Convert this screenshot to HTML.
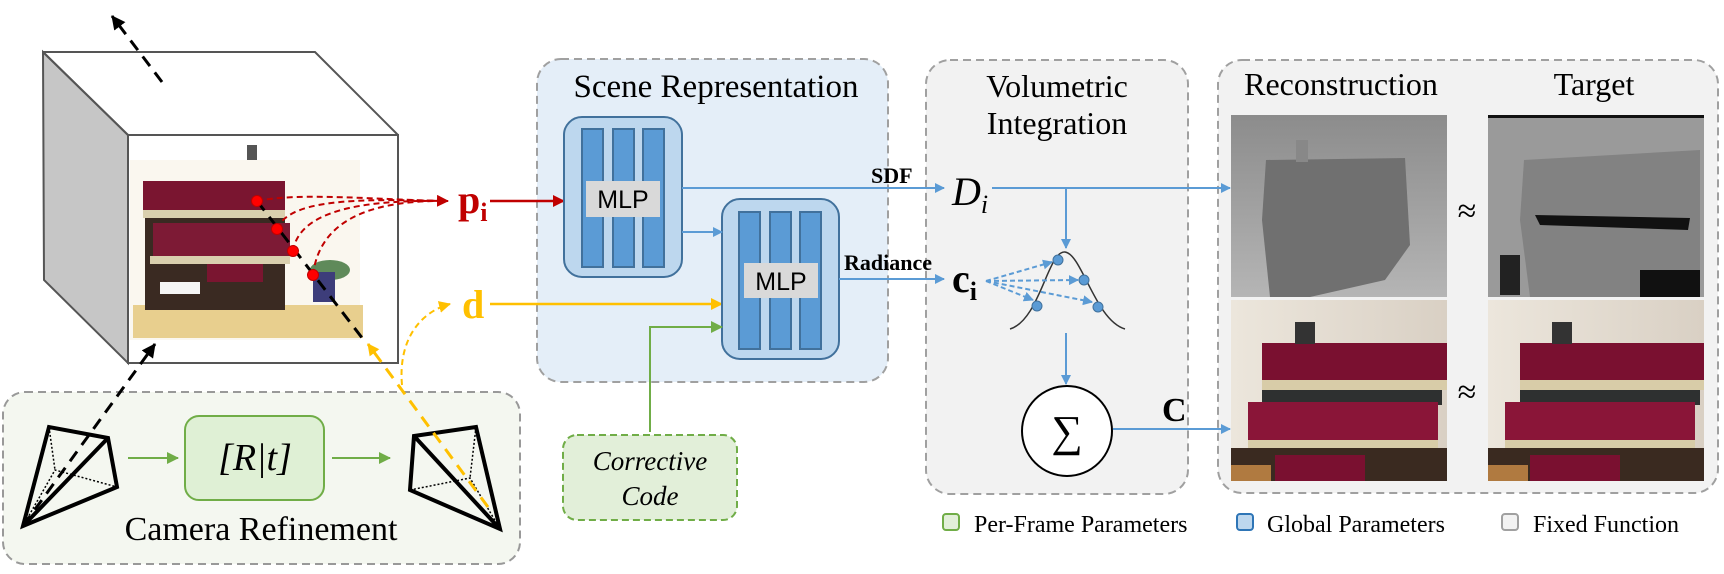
<!DOCTYPE html>
<html><head><meta charset="utf-8"><style>
html,body{margin:0;padding:0;background:#fff;}
svg{display:block;}
text{font-family:"Liberation Serif",serif;}
</style></head><body>
<svg width="1724" height="574" viewBox="0 0 1724 574" xmlns="http://www.w3.org/2000/svg">
<defs>
<marker id="ab" markerWidth="10" markerHeight="10" refX="9" refY="5" orient="auto" markerUnits="userSpaceOnUse"><path d="M0,0 L10,5 L0,10 z" fill="#5b9bd5"/></marker>
<marker id="ar" markerWidth="12" markerHeight="12" refX="11" refY="6" orient="auto" markerUnits="userSpaceOnUse"><path d="M0,0 L12,6 L0,12 z" fill="#c00000"/></marker>
<marker id="ay" markerWidth="12" markerHeight="12" refX="11" refY="6" orient="auto" markerUnits="userSpaceOnUse"><path d="M0,0 L12,6 L0,12 z" fill="#ffc000"/></marker>
<marker id="ag" markerWidth="12" markerHeight="12" refX="11" refY="6" orient="auto" markerUnits="userSpaceOnUse"><path d="M0,0 L12,6 L0,12 z" fill="#70ad47"/></marker>
<marker id="ak" markerWidth="14" markerHeight="14" refX="13" refY="7" orient="auto" markerUnits="userSpaceOnUse"><path d="M0,0 L14,7 L0,14 z" fill="#000"/></marker>
<linearGradient id="dg" x1="0" y1="0" x2="0" y2="1"><stop offset="0" stop-color="#8c8c8c"/><stop offset="1" stop-color="#b5b5b5"/></linearGradient>
<linearGradient id="wg" x1="0" y1="0" x2="1" y2="0"><stop offset="0" stop-color="#ece6dc"/><stop offset="1" stop-color="#d9d0c4"/></linearGradient>
</defs>

<!-- Camera refinement box (drawn first so rays overlay it) -->
<rect x="3" y="392" width="517" height="172" rx="22" fill="#f4f7f0" stroke="#999" stroke-width="2" stroke-dasharray="8,5"/>

<!-- Cube -->
<polygon points="43,52 128,135 128,363 44,280" fill="#c6c6c6" stroke="#555" stroke-width="2"/>
<polyline points="43,52 315,52 398,135" fill="none" stroke="#555" stroke-width="2"/>
<line x1="43" y1="52" x2="128" y2="135" stroke="#555" stroke-width="2"/>
<rect x="130" y="160" width="230" height="180" fill="#f7f2e4" opacity="0.6"/>
<rect x="133" y="305" width="230" height="33" fill="#e8cf8e"/>
<rect x="145" y="195" width="140" height="115" fill="#3a2a22"/>
<rect x="143" y="181" width="142" height="30" fill="#7a1530"/>
<rect x="143" y="210" width="142" height="8" fill="#d9cfae"/>
<rect x="153" y="223" width="137" height="33" fill="#7d1a35"/>
<rect x="150" y="256" width="140" height="8" fill="#d9cfae"/>
<rect x="207" y="264" width="56" height="18" fill="#7a1530"/>
<rect x="160" y="282" width="40" height="12" fill="#f5f5f5"/>
<rect x="247" y="145" width="10" height="15" fill="#555"/>
<ellipse cx="330" cy="270" rx="20" ry="10" fill="#5f8a5a"/>
<rect x="313" y="272" width="22" height="30" fill="#3d3d7a"/>
<rect x="128" y="135" width="270" height="228" fill="none" stroke="#555" stroke-width="2"/>

<!-- Cameras -->
<g fill="none" stroke="#000">
<polygon points="23,526 49,427 108,438 117,487" stroke-width="4"/>
<line x1="23" y1="526" x2="108" y2="438" stroke-width="4"/>
<polyline points="23,526 55,470 117,487" stroke-width="1.5" stroke-dasharray="2,2"/>
<line x1="49" y1="427" x2="55" y2="470" stroke-width="1.5" stroke-dasharray="2,2"/>
<polygon points="414,436 476,427 500,529 410,490" stroke-width="4"/>
<line x1="414" y1="436" x2="500" y2="529" stroke-width="4"/>
<polyline points="410,490 470,478 500,529" stroke-width="1.5" stroke-dasharray="2,2"/>
<line x1="476" y1="427" x2="470" y2="478" stroke-width="1.5" stroke-dasharray="2,2"/>
</g>

<!-- black dashed rays -->
<line x1="162" y1="82" x2="112" y2="16" stroke="#000" stroke-width="3" stroke-dasharray="12,8" marker-end="url(#ak)"/>
<line x1="23" y1="526" x2="155" y2="344" stroke="#000" stroke-width="3" stroke-dasharray="12,8" marker-end="url(#ak)"/>
<line x1="257" y1="201" x2="366" y2="343" stroke="#000" stroke-width="3" stroke-dasharray="12,8"/>
<!-- red curves -->
<g fill="none" stroke="#c00000" stroke-width="2" stroke-dasharray="6,4">
<path d="M257,201 C300,192 380,200 448,201"/>
<path d="M277,229 C290,195 380,200 448,201"/>
<path d="M293,251 C300,205 380,200 448,201"/>
<path d="M313,275 C320,215 380,200 448,201" marker-end="url(#ar)"/>
</g>
<g fill="#ff0000" stroke="#c00000" stroke-width="1"><circle cx="257" cy="201" r="5.5"/><circle cx="277" cy="229" r="5.5"/><circle cx="293" cy="251" r="5.5"/><circle cx="313" cy="275" r="5.5"/></g>
<text x="458" y="213" font-size="40" font-weight="bold" fill="#c00000">p<tspan font-size="26" dy="8">i</tspan></text>
<!-- yellow -->
<path d="M402,385 C398,340 420,312 450,304" fill="none" stroke="#ffc000" stroke-width="2" stroke-dasharray="6,4" marker-end="url(#ay)"/>
<line x1="488" y1="507" x2="368" y2="344" stroke="#ffc000" stroke-width="3" stroke-dasharray="12,8" marker-end="url(#ay)"/>
<text x="462" y="318" font-size="40" font-weight="bold" fill="#ffc000">d</text>

<rect x="185" y="416" width="139" height="84" rx="14" fill="#dff0d5" stroke="#70ad47" stroke-width="2"/>
<text x="255" y="470" font-size="38" text-anchor="middle" font-style="italic">[R|t]</text>
<line x1="128" y1="458" x2="178" y2="458" stroke="#70ad47" stroke-width="2" marker-end="url(#ag)"/>
<line x1="332" y1="458" x2="390" y2="458" stroke="#70ad47" stroke-width="2" marker-end="url(#ag)"/>
<text x="261" y="540" font-size="34" text-anchor="middle">Camera Refinement</text>

<!-- Scene representation -->
<rect x="537" y="59" width="351" height="323" rx="24" fill="#e4eef8" stroke="#a0a0a0" stroke-width="2" stroke-dasharray="8,5"/>
<text x="716" y="97" font-size="33" text-anchor="middle">Scene Representation</text>
<line x1="490" y1="304" x2="722" y2="304" stroke="#ffc000" stroke-width="2.5" marker-end="url(#ay)"/>
<line x1="490" y1="201" x2="564" y2="201" stroke="#c00000" stroke-width="2.5" marker-end="url(#ar)"/>
<g stroke="#41719c" stroke-width="2">
<rect x="564" y="117" width="118" height="160" rx="18" fill="#bdd7ee"/>
<rect x="582" y="129" width="21" height="138" fill="#5b9bd5"/><rect x="613" y="129" width="21" height="138" fill="#5b9bd5"/><rect x="643" y="129" width="21" height="138" fill="#5b9bd5"/>
<rect x="722" y="199" width="117" height="160" rx="18" fill="#bdd7ee"/>
<rect x="739" y="212" width="21" height="137" fill="#5b9bd5"/><rect x="770" y="212" width="21" height="137" fill="#5b9bd5"/><rect x="800" y="212" width="21" height="137" fill="#5b9bd5"/>
</g>
<rect x="586" y="181" width="74" height="36" fill="#d9d9d9"/>
<rect x="744" y="263" width="74" height="35" fill="#d9d9d9"/>
<text x="623" y="208" font-size="25" text-anchor="middle" style="font-family:'Liberation Sans',sans-serif">MLP</text>
<text x="781" y="290" font-size="25" text-anchor="middle" style="font-family:'Liberation Sans',sans-serif">MLP</text>
<line x1="682" y1="232" x2="722" y2="232" stroke="#5b9bd5" stroke-width="2" marker-end="url(#ab)"/>
<polyline points="650,432 650,327 722,327" fill="none" stroke="#70ad47" stroke-width="2" marker-end="url(#ag)"/>
<rect x="563" y="435" width="174" height="85" rx="14" fill="#e2efd9" stroke="#70ad47" stroke-width="2" stroke-dasharray="7,4"/>
<text x="650" y="470" font-size="27" text-anchor="middle" font-style="italic">Corrective</text>
<text x="650" y="505" font-size="27" text-anchor="middle" font-style="italic">Code</text>

<!-- Volumetric -->
<rect x="926" y="60" width="262" height="434" rx="24" fill="#f2f2f2" stroke="#a0a0a0" stroke-width="2" stroke-dasharray="8,5"/>
<text x="1057" y="97" font-size="32" text-anchor="middle">Volumetric</text>
<text x="1057" y="134" font-size="32" text-anchor="middle">Integration</text>
<line x1="682" y1="188" x2="944" y2="188" stroke="#5b9bd5" stroke-width="2" marker-end="url(#ab)"/>
<text x="871" y="183" font-size="22" font-weight="bold">SDF</text>
<text x="952" y="205" font-size="40" font-style="italic">D<tspan font-size="26" dy="8">i</tspan></text>
<line x1="839" y1="279" x2="944" y2="279" stroke="#5b9bd5" stroke-width="2" marker-end="url(#ab)"/>
<text x="844" y="270" font-size="22" font-weight="bold">Radiance</text>
<text x="952" y="292" font-size="40" font-weight="bold">c<tspan font-size="26" dy="8">i</tspan></text>
<line x1="1066" y1="188" x2="1066" y2="248" stroke="#5b9bd5" stroke-width="2" marker-end="url(#ab)"/>
<path d="M1010,329 C1040,320 1048,250 1065,252 C1082,254 1095,320 1125,329" fill="none" stroke="#333" stroke-width="1.5"/>
<g stroke="#5b9bd5" stroke-width="2" stroke-dasharray="5,3" fill="none">
<line x1="986" y1="281" x2="1052" y2="262" marker-end="url(#ab)"/>
<line x1="986" y1="281" x2="1078" y2="280" marker-end="url(#ab)"/>
<line x1="986" y1="281" x2="1033" y2="300" marker-end="url(#ab)"/>
<line x1="986" y1="281" x2="1092" y2="302" marker-end="url(#ab)"/>
</g>
<g fill="#5b9bd5" stroke="#41719c"><circle cx="1058" cy="260" r="5"/><circle cx="1084" cy="280" r="5"/><circle cx="1037" cy="306" r="5"/><circle cx="1098" cy="307" r="5"/></g>
<line x1="1066" y1="333" x2="1066" y2="384" stroke="#5b9bd5" stroke-width="2" marker-end="url(#ab)"/>
<circle cx="1067" cy="431" r="45" fill="#fff" stroke="#000" stroke-width="2"/>
<text x="1067" y="446" font-size="44" text-anchor="middle">∑</text>
<text x="1162" y="421" font-size="34" font-weight="bold">C</text>

<!-- Reconstruction -->
<rect x="1218" y="60" width="500" height="433" rx="24" fill="#f2f2f2" stroke="#a0a0a0" stroke-width="2" stroke-dasharray="8,5"/>
<line x1="992" y1="188" x2="1230" y2="188" stroke="#5b9bd5" stroke-width="2" marker-end="url(#ab)"/>
<line x1="1113" y1="429" x2="1230" y2="429" stroke="#5b9bd5" stroke-width="2" marker-end="url(#ab)"/>
<text x="1341" y="95" font-size="32" text-anchor="middle">Reconstruction</text>
<text x="1594" y="95" font-size="32" text-anchor="middle">Target</text>
<rect x="1231" y="115" width="216" height="182" fill="url(#dg)"/>
<path d="M1266,160 L1405,158 L1410,245 L1385,280 L1310,297 L1270,297 L1262,220 Z" fill="#707070"/>
<rect x="1296" y="140" width="12" height="22" fill="#888"/>
<rect x="1488" y="115" width="216" height="182" fill="#9a9a9a"/>
<path d="M1524,160 L1700,150 L1700,280 L1680,297 L1530,297 L1520,220 Z" fill="#828282"/>
<path d="M1535,215 L1690,218 L1688,230 L1540,225 Z" fill="#111"/>
<rect x="1488" y="115" width="216" height="3" fill="#111"/>
<rect x="1640" y="270" width="60" height="27" fill="#111"/>
<rect x="1500" y="255" width="20" height="40" fill="#222"/>
<g>
<rect x="1231" y="300" width="216" height="181" fill="url(#wg)"/>
<rect x="1262" y="343" width="185" height="40" fill="#7a1030"/>
<rect x="1262" y="380" width="185" height="10" fill="#d8cca8"/>
<rect x="1262" y="390" width="180" height="15" fill="#2e3030"/>
<rect x="1248" y="402" width="190" height="40" fill="#8a1538"/>
<rect x="1248" y="440" width="190" height="8" fill="#d8cca8"/>
<rect x="1231" y="448" width="216" height="33" fill="#3a2a20"/>
<rect x="1275" y="455" width="90" height="26" fill="#7a1030"/>
<rect x="1231" y="465" width="40" height="16" fill="#b07a40"/>
<rect x="1295" y="322" width="20" height="22" fill="#333"/>
</g>
<g>
<rect x="1488" y="300" width="216" height="181" fill="url(#wg)"/>
<rect x="1520" y="343" width="184" height="40" fill="#7a1030"/>
<rect x="1520" y="380" width="184" height="10" fill="#d8cca8"/>
<rect x="1520" y="390" width="180" height="15" fill="#2e3030"/>
<rect x="1505" y="402" width="190" height="40" fill="#8a1538"/>
<rect x="1505" y="440" width="190" height="8" fill="#d8cca8"/>
<rect x="1488" y="448" width="216" height="33" fill="#3a2a20"/>
<rect x="1530" y="455" width="90" height="26" fill="#7a1030"/>
<rect x="1488" y="465" width="40" height="16" fill="#b07a40"/>
<rect x="1552" y="322" width="20" height="22" fill="#333"/>
</g>
<text x="1467" y="222" font-size="34" text-anchor="middle">≈</text>
<text x="1467" y="403" font-size="34" text-anchor="middle">≈</text>

<!-- Legend -->
<rect x="943" y="514" width="16" height="16" rx="3" fill="#e2efd9" stroke="#70ad47" stroke-width="2"/>
<text x="974" y="532" font-size="24">Per-Frame Parameters</text>
<rect x="1237" y="514" width="16" height="16" rx="3" fill="#bdd7ee" stroke="#2e75b6" stroke-width="2"/>
<text x="1267" y="532" font-size="24">Global Parameters</text>
<rect x="1502" y="514" width="16" height="16" rx="3" fill="#f2f2f2" stroke="#a0a0a0" stroke-width="2"/>
<text x="1533" y="532" font-size="24">Fixed Function</text>
</svg>
</body></html>
